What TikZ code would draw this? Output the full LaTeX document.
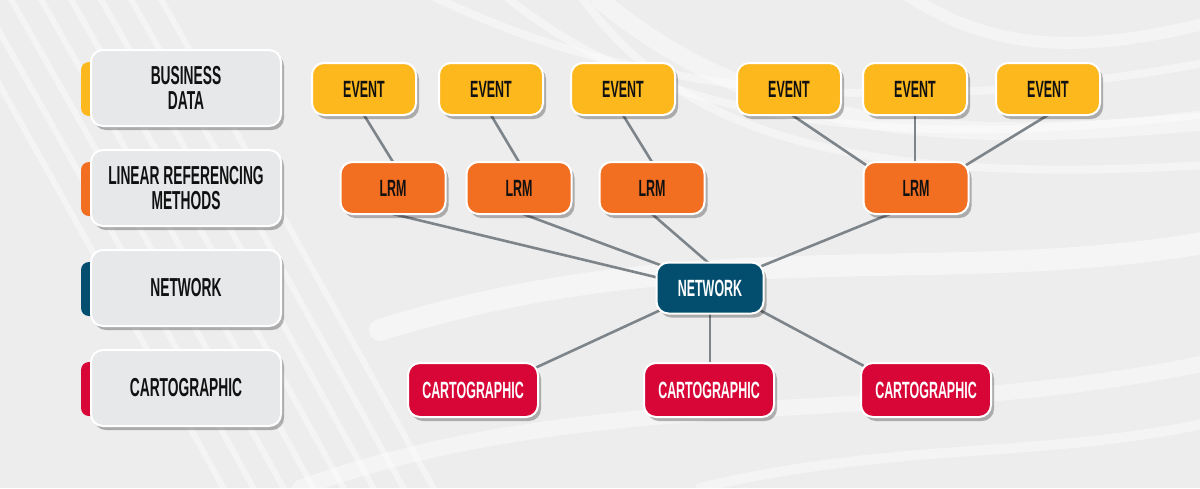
\documentclass[tikz,border=0pt]{standalone}
\usepackage{fontspec}
\setmainfont{Liberation Sans}[FakeStretch=0.53]
\usetikzlibrary{shadows,calc}
\pgfdeclarelayer{bglayer}
\pgfdeclarelayer{linelayer}
\pgfsetlayers{bglayer,linelayer,main}
\definecolor{bgc}{HTML}{EDEDEE}
\definecolor{evc}{HTML}{FDB81E}
\definecolor{lrc}{HTML}{F26F21}
\definecolor{nwc}{HTML}{034E6E}
\definecolor{rdc}{HTML}{D80537}
\definecolor{lbc}{HTML}{E7E8EA}
\definecolor{lnc}{HTML}{7E858A}
\definecolor{txc}{HTML}{111111}
\tikzset{
  boxbase/.style={rounded corners=12pt, draw=white, line width=2pt, inner sep=0pt, outer sep=0pt,
    drop shadow={shadow xshift=3pt, shadow yshift=-4pt, opacity=0.28, fill=black}},
  nodefont/.style={font=\fontsize{23.5}{25}\selectfont\bfseries},
  evbox/.style={boxbase, nodefont, fill=evc, minimum width=104pt, minimum height=52pt, text=txc},
  lrbox/.style={boxbase, nodefont, fill=lrc, minimum width=105pt, minimum height=52pt, text=txc},
  nwbox/.style={boxbase, nodefont, fill=nwc, minimum width=107pt, minimum height=51pt, text=white},
  rdbox/.style={boxbase, nodefont, fill=rdc, minimum width=130pt, minimum height=54pt, text=white},
  lbbox/.style={boxbase, fill=lbc, minimum width=190pt, minimum height=76pt, text=txc, align=center,
    font=\fontsize{26}{25}\selectfont\bfseries},
  tabbox/.style={rounded corners=8pt, inner sep=0pt, outer sep=0pt, minimum width=30pt, minimum height=54pt},
  conn/.style={draw=lnc, line width=2.6pt},
  wave/.style={draw=white, line cap=round, opacity=0.4}
}
\begin{document}
\begin{tikzpicture}[x=1pt,y=-1pt]
\useasboundingbox (0,0) rectangle (1200,488);
\begin{pgfonlayer}{bglayer}
\fill[bgc] (0,0) rectangle (1200,488);
\begin{scope}
\clip (0,0) rectangle (1200,488);
\foreach \s in {0,30,60,90,120,150,180,210}{
  \draw[wave, line width=6pt] (-60+\s,-20) .. controls (20+\s,120) and (120+\s,300) .. (230+\s,500);
}
\foreach \s in {0,26,52}{
  \draw[wave, line width=8pt] (420+\s*3,-10) .. controls (560+\s*2,60+\s) and (800,140+\s) .. (1220,60+\s*2);
}
\draw[wave, line width=18pt, opacity=0.4] (600,0) .. controls (780,150) and (1000,140) .. (1220,120);
\draw[wave, line width=22pt, opacity=0.45] (380,330) .. controls (700,230) and (950,290) .. (1220,240);
\draw[wave, line width=16pt, opacity=0.4] (300,488) .. controls (600,380) and (900,430) .. (1220,360);
\draw[wave, line width=10pt, opacity=0.4] (700,488) .. controls (900,440) and (1050,460) .. (1220,420);
\draw[wave, line width=12pt, opacity=0.4] (900,-10) .. controls (1000,60) and (1100,50) .. (1220,20);
\end{scope}
\end{pgfonlayer}

% label column
\node[tabbox, fill=evc] (t1) at (96,89) {};
\node[tabbox, fill=lrc] (t2) at (96,189) {};
\node[tabbox, fill=nwc] (t3) at (96,289) {};
\node[tabbox, fill=rdc] (t4) at (96,389) {};
\node[lbbox] (b1) at (186,88) {BUSINESS\\DATA};
\node[lbbox] (b2) at (186,188) {LINEAR REFERENCING\\METHODS};
\node[lbbox] (b3) at (186,288) {NETWORK};
\node[lbbox] (b4) at (186,388) {CARTOGRAPHIC};

% nodes
\node[evbox] (e1) at (364,89) {EVENT};
\node[evbox] (e2) at (491,89) {EVENT};
\node[evbox] (e3) at (623,89) {EVENT};
\node[evbox] (e4) at (789,89) {EVENT};
\node[evbox] (e5) at (915,89) {EVENT};
\node[evbox] (e6) at (1048,89) {EVENT};
\node[lrbox] (l1) at (393,188) {LRM};
\node[lrbox] (l2) at (519,188) {LRM};
\node[lrbox] (l3) at (652,188) {LRM};
\node[lrbox] (l4) at (916,188) {LRM};
\node[nwbox] (nw) at (710,288) {NETWORK};
\node[rdbox] (c1) at (473,390) {CARTOGRAPHIC};
\node[rdbox] (c2) at (709,390) {CARTOGRAPHIC};
\node[rdbox] (c3) at (926,390) {CARTOGRAPHIC};

% connectors
\begin{pgfonlayer}{linelayer}
\draw[conn] (e1.south) -- (l1.north);
\draw[conn] (e2.south) -- (l2.north);
\draw[conn] (e3.south) -- (l3.north);
\draw[conn] ([xshift=3pt]e4.south) -- ([xshift=4pt,yshift=-4pt]l4.north west);
\draw[conn] (e5.south) -- (e5.south |- l4.north);
\draw[conn] (e6.south) -- ([xshift=-4pt,yshift=-4pt]l4.north east);
\draw[conn] (l1.south) -- ([xshift=3pt,yshift=10pt]nw.west);
\draw[conn] ([xshift=4pt]l2.south) -- ([xshift=5pt,yshift=-3pt]nw.north west);
\draw[conn] (l3.south) -- ([xshift=-2pt]nw.north);
\draw[conn] ($(l4.south west)!0.5!(l4.south)$) -- ([xshift=-3pt,yshift=-4pt]nw.north east);
\draw[conn] ([xshift=3pt,yshift=3pt]nw.south west) -- ([xshift=-3pt,yshift=-5pt]c1.north east);
\draw[conn] (nw.south) -- (nw.south |- c2.north);
\draw[conn] ([xshift=-3pt,yshift=3pt]nw.south east) -- ([xshift=3pt,yshift=-3pt]c3.north west);
\end{pgfonlayer}
\end{tikzpicture}
\end{document}
